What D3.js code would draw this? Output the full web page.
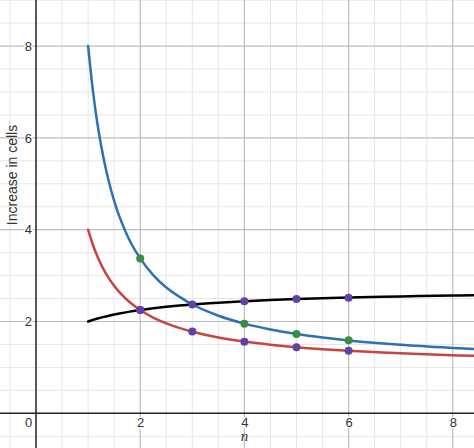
<!DOCTYPE html>
<html>
<head>
<meta charset="utf-8">
<script src="https://cdn.jsdelivr.net/npm/d3@7"></script>
<style>
  html, body { margin: 0; padding: 0; background: #fff; }
  svg { display: block; }
</style>
</head>
<body>
<svg id="chart" width="474" height="448"></svg>
<script>
// ---- data ----
const nSamples = [1, 1.1, 1.2, 1.3, 1.4, 1.5, 1.6, 1.8, 2, 2.25, 2.5, 2.75, 3, 3.5, 4, 4.5, 5, 5.5, 6, 7, 8, 8.4];
const blueValues = [8, 6.96, 6.16, 5.54, 5.04, 4.63, 4.29, 3.76, 3.375, 3.01, 2.74, 2.54, 2.37, 2.125, 1.953, 1.826, 1.728, 1.651, 1.588, 1.493, 1.424, 1.401];
const redValues = [4, 3.645, 3.361, 3.13, 2.939, 2.778, 2.641, 2.42, 2.25, 2.086, 1.96, 1.86, 1.778, 1.653, 1.5625, 1.494, 1.44, 1.397, 1.361, 1.306, 1.266, 1.252];
const blackValues = [2, 2.037, 2.07, 2.1, 2.127, 2.152, 2.175, 2.215, 2.25, 2.287, 2.319, 2.347, 2.37, 2.41, 2.441, 2.467, 2.488, 2.506, 2.522, 2.547, 2.566, 2.572];

const pointN = [2, 3, 4, 5, 6];
const purpleOnRed = [2.25, 1.78, 1.56, 1.44, 1.36];
const purpleOnBlack = [2.25, 2.37, 2.44, 2.49, 2.52];
const greenN = [2, 4, 5, 6];
const greenOnBlue = [3.375, 1.95, 1.73, 1.59];

const xTickValues = [0, 2, 4, 6, 8];
const yTickValues = [2, 4, 6, 8];
const xLabel = "n";
const yLabel = "Increase in cells";

// ---- setup ----
const W = 474, H = 448;
const svg = d3.select("#chart");
const x = d3.scaleLinear().domain([-0.691, 8.407]).range([0, W]);
const y = d3.scaleLinear().domain([-0.756, 9.004]).range([H, 0]);

const colors = { blue: "#2d70b3", red: "#c74440", black: "#000000", green: "#388c46", purple: "#6042a6" };

// ---- grid ----
const minorX = d3.range(-0.5, 8.5, 0.5).filter(v => v % 2 !== 0);
const minorY = d3.range(-0.5, 9.1, 0.5).filter(v => v % 2 !== 0);
const majorX = d3.range(-0, 9, 2).filter(v => v !== 0);
const majorY = d3.range(0, 9.1, 2).filter(v => v !== 0);

const grid = svg.append("g");
grid.selectAll("line.mx").data(minorX).join("line")
  .attr("x1", d => x(d)).attr("x2", d => x(d)).attr("y1", 0).attr("y2", H)
  .attr("stroke", "#e6e6e6").attr("stroke-width", 1);
grid.selectAll("line.my").data(minorY).join("line")
  .attr("y1", d => y(d)).attr("y2", d => y(d)).attr("x1", 0).attr("x2", W)
  .attr("stroke", "#e6e6e6").attr("stroke-width", 1);
grid.selectAll("line.Mx").data(majorX).join("line")
  .attr("x1", d => x(d)).attr("x2", d => x(d)).attr("y1", 0).attr("y2", H)
  .attr("stroke", "#bdbdbd").attr("stroke-width", 1.2);
grid.selectAll("line.My").data(majorY).join("line")
  .attr("y1", d => y(d)).attr("y2", d => y(d)).attr("x1", 0).attr("x2", W)
  .attr("stroke", "#bdbdbd").attr("stroke-width", 1.2);

// axes lines
svg.append("line").attr("x1", x(0)).attr("x2", x(0)).attr("y1", 0).attr("y2", H)
  .attr("stroke", "#222").attr("stroke-width", 1.5);
svg.append("line").attr("y1", y(0)).attr("y2", y(0)).attr("x1", 0).attr("x2", W)
  .attr("stroke", "#222").attr("stroke-width", 1.5);

// ---- tick labels via d3 axes ----
const xAxis = svg.append("g").attr("transform", `translate(0,${y(0)})`)
  .call(d3.axisBottom(x).tickValues(xTickValues).tickSize(0).tickPadding(4).tickFormat(d3.format("d")));
xAxis.select(".domain").remove();
xAxis.selectAll("text")
  .attr("font-family", "Liberation Sans, Arial, sans-serif").attr("font-size", 13).attr("fill", "#333")
  .attr("stroke", "#fff").attr("stroke-width", 3).attr("paint-order", "stroke")
  .attr("dx", d => d === 0 ? -8 : 0);

const yAxis = svg.append("g").attr("transform", `translate(${x(0)},0)`)
  .call(d3.axisLeft(y).tickValues(yTickValues).tickSize(0).tickPadding(4).tickFormat(d3.format("d")));
yAxis.select(".domain").remove();
yAxis.selectAll("text")
  .attr("font-family", "Liberation Sans, Arial, sans-serif").attr("font-size", 13).attr("fill", "#333")
  .attr("stroke", "#fff").attr("stroke-width", 3).attr("paint-order", "stroke");

// axis titles
svg.append("text").attr("x", x(4)).attr("y", 441).attr("text-anchor", "middle")
  .attr("font-family", "Liberation Serif, Times New Roman, serif").attr("font-style", "italic")
  .attr("font-size", 15).attr("fill", "#333").text(xLabel);
svg.append("text").attr("transform", `translate(17,175) rotate(-90)`).attr("text-anchor", "middle")
  .attr("font-family", "Liberation Sans, Arial, sans-serif").attr("font-size", 14).attr("fill", "#333")
  .text(yLabel);

// ---- curves ----
svg.append("defs").append("clipPath").attr("id", "clip")
  .append("rect").attr("x", 0).attr("y", 0).attr("width", W).attr("height", H);
const curves = svg.append("g").attr("clip-path", "url(#clip)");
const line = d3.line().x(d => x(d[0])).y(d => y(d[1])).curve(d3.curveCatmullRom.alpha(0.5));

function draw(values, color) {
  curves.append("path").datum(nSamples.map((n, i) => [n, values[i]]))
    .attr("d", line).attr("fill", "none").attr("stroke", color)
    .attr("stroke-width", 2.5).attr("stroke-linecap", "round");
}
draw(redValues, colors.red);
draw(blueValues, colors.blue);
draw(blackValues, colors.black);

// ---- points ----
const pts = svg.append("g");
pts.selectAll("circle.g").data(greenN.map((n, i) => [n, greenOnBlue[i]])).join("circle")
  .attr("cx", d => x(d[0])).attr("cy", d => y(d[1])).attr("r", 4).attr("fill", colors.green);
pts.selectAll("circle.pr").data(pointN.map((n, i) => [n, purpleOnRed[i]])).join("circle")
  .attr("cx", d => x(d[0])).attr("cy", d => y(d[1])).attr("r", 4).attr("fill", colors.purple);
pts.selectAll("circle.pb").data(pointN.map((n, i) => [n, purpleOnBlack[i]])).join("circle")
  .attr("cx", d => x(d[0])).attr("cy", d => y(d[1])).attr("r", 4).attr("fill", colors.purple);
</script>
</body>
</html>
